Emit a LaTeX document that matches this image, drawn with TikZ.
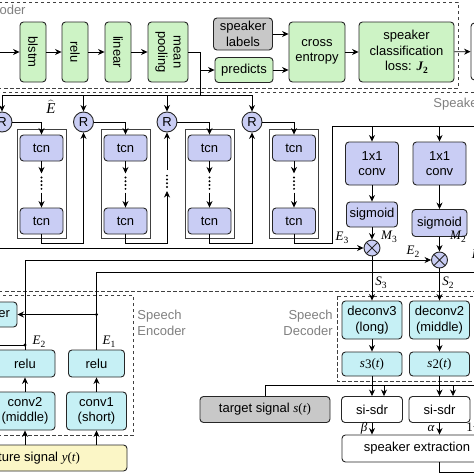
\documentclass[tikz,border=0pt]{standalone}
\usepackage{fontspec}
\setmainfont{Liberation Sans}
\newfontfamily\tms{Liberation Serif}
\usetikzlibrary{positioning,arrows.meta}

\definecolor{boxgreen}{HTML}{CDF3C5}
\definecolor{boxblue}{HTML}{C9CDF4}
\definecolor{boxcyan}{HTML}{C6F0F5}
\definecolor{boxyellow}{HTML}{FBF6C6}
\definecolor{boxgrey}{HTML}{C8C8C8}

\newcommand{\mv}[2]{{\tms\itshape #1}\raisebox{-3pt}{\fontsize{9.5}{9.5}\selectfont\tms #2}}
\newcommand{\jtwo}{{\tms\bfseries\itshape J}\raisebox{-3pt}{\fontsize{9.5}{9.5}\selectfont\tms\bfseries 2}}
\newcommand{\sig}[2]{{\tms\itshape #1}\raisebox{-1.5pt}{\tms #2}{\tms(\textit{t})}}

\tikzset{
  box/.style={draw=black!85, rounded corners=3.5pt, line width=0.9pt, align=center, inner sep=1pt},
  gbox/.style={box, fill=boxgreen},
  vbox/.style={gbox, rotate=-90},
  bbox/.style={box, fill=boxblue},
  cbox/.style={box, fill=boxcyan},
  ybox/.style={box, fill=boxyellow},
  greybox/.style={box, fill=boxgrey},
  wbox/.style={box, fill=white},
  rnode/.style={circle, draw=black!85, line width=0.9pt, fill=boxblue, minimum size=20pt, inner sep=0pt},
  mul/.style={circle, draw=black!85, line width=0.9pt, fill=boxblue, minimum size=16pt, inner sep=0pt,
    path picture={\draw[line width=0.9pt] (path picture bounding box.north west) -- (path picture bounding box.south east)
                  (path picture bounding box.north east) -- (path picture bounding box.south west);}},
  stack/.style={draw=black!75, line width=0.8pt, minimum width=49pt, minimum height=109pt},
  tcn/.style={bbox, minimum width=43pt, minimum height=26pt},
  group/.style={draw=black!75, line width=1pt, dash pattern=on 3.5pt off 2.5pt},
  glabel/.style={text=black!50, align=left, inner sep=1pt},
  mlabel/.style={inner sep=0pt},
  dots/.style={line width=2.2pt, line cap=round, dash pattern=on 0pt off 3.8pt},
}

\begin{document}
\begin{tikzpicture}[x=1pt,y=-1pt,on grid,line width=0.8pt,
    >={Stealth[length=6.5pt,width=6pt]},font=\fontsize{13}{15.5}\selectfont]
  \useasboundingbox (0,0) rectangle (474,474);
  \clip (0,0) rectangle (474,474);
  \fill[white] (0,0) rectangle (474,474);

  % speaker encoder
  \draw[group] (-60,2) rectangle (458,88);
  \node[glabel, anchor=east] (spkenc) at (27,11) {Speaker Encoder};

  \node[vbox, minimum width=60pt, minimum height=26pt] (blstm) at (33,52) {blstm};
  \node[vbox, minimum width=60pt, minimum height=26pt] (relu0) [right=42pt of blstm] {relu};
  \node[vbox, minimum width=60pt, minimum height=26pt] (linear) [right=43pt of relu0] {linear};
  \node[vbox, minimum width=60pt, minimum height=40pt] (pool) [right=50pt of linear] {mean\\pooling};
  \node[greybox, minimum width=59pt, minimum height=32pt] (spklab) at (243,34) {speaker\\labels};
  \node[gbox, minimum width=58pt, minimum height=25pt] (pred) at (244,70) {predicts};
  \node[gbox, minimum width=56pt, minimum height=60pt] (ce) at (317,52) {cross\\entropy};
  \node[gbox, minimum width=95pt, minimum height=60pt] (loss) [right=89.5pt of ce] {speaker\\classification\\loss: \jtwo};
  \node[wbox, minimum width=50pt, minimum height=57pt] (nextbox) at (496,51.5) {};

  \coordinate (spkin) at (-5,52);
  \coordinate (split) at (200,52);
  \coordinate (feed) at (200,95);

  \path[->] (spkin) edge (blstm)
            (blstm) edge (relu0)
            (relu0) edge (linear)
            (linear) edge (pool)
            (ce) edge (loss)
            (loss) edge (nextbox);
  \draw[->] (spklab.east) -- (spklab.east -| ce.west);
  \draw[->] (pred) -- (pred -| ce.west);
  \draw (pool) -- (split) -- (feed);
  \draw[->] (split |- pred) -- (pred);

  % speaker extractor
  \draw[group] (-60,92) rectangle (530,291);
  \node[glabel, anchor=west] (spkext) at (432,104) {Speaker Extractor};

  \node[rnode] (R1) at (2,122) {R};
  \node[rnode] (R2) [right=81.5pt of R1] {R};
  \node[rnode] (R3) [right=83.5pt of R2] {R};
  \node[rnode] (R4) [right=85pt of R3] {R};
  \draw[->] (feed) -| (R1);
  \draw[->] (feed) -| (R4);
  \draw[->] (R2 |- feed) -- (R2);
  \draw[->] (R3 |- feed) -- (R3);

  \node[stack] (blk1) at (41.5,183.5) {};
  \node[stack] (blk2) [right=84pt of blk1] {};
  \node[stack] (blk3) [right=84pt of blk2] {};
  \node[stack] (blk4) [right=84.5pt of blk3] {};
  \node[tcn] (t1a) at (41.5,148) {tcn};
  \node[tcn] (t1b) [below=73pt of t1a] {tcn};
  \node[tcn] (t2a) [right=84pt of t1a] {tcn};
  \node[tcn] (t2b) [below=73pt of t2a] {tcn};
  \node[tcn] (t3a) [right=84pt of t2a] {tcn};
  \node[tcn] (t3b) [below=73pt of t3a] {tcn};
  \node[tcn] (t4a) [right=84.5pt of t3a] {tcn};
  \node[tcn] (t4b) [below=73pt of t4a] {tcn};
  \node[mlabel] (ehat) at (51,107) {\fontsize{15}{15}\selectfont$\widehat{\hbox{\tms\itshape E}}$};

  \draw[->] (t1a.south) -- ++(0,12);
  \draw[dots] (t1a.south) ++(0,16) -- ++(0,15);
  \draw[->] (t1b.north) ++(0,-15) -- (t1b.north);
  \draw[->] (t2a.south) -- ++(0,12);
  \draw[dots] (t2a.south) ++(0,16) -- ++(0,15);
  \draw[->] (t2b.north) ++(0,-15) -- (t2b.north);
  \draw[->] (t3a.south) -- ++(0,12);
  \draw[dots] (t3a.south) ++(0,16) -- ++(0,15);
  \draw[->] (t3b.north) ++(0,-15) -- (t3b.north);
  \draw[->] (t4a.south) -- ++(0,12);
  \draw[dots] (t4a.south) ++(0,16) -- ++(0,15);
  \draw[->] (t4b.north) ++(0,-15) -- (t4b.north);

  \draw[->] (R1) -| (t1a);
  \draw[->] (R2) -| (t2a);
  \draw[->] (R3) -| (t3a);
  \draw[->] (R4) -| (t4a);

  \coordinate (gapb) at (167,191);
  \coordinate (gapt) at (167,170);
  \draw[->] (t1b.south) -- ++(0,9) -| (R2);
  \draw[->] (t2b.south) -- ++(0,9) -| (gapb);
  \draw[dots] (gapb) ++(0,-4) -- ++(0,-15);
  \draw[->] (gapt) -- (R3);
  \draw[->] (t3b.south) -- ++(0,9) -| (R4);

  \coordinate (bus) at (332,126);
  \coordinate (busend) at (480,126);
  \draw (t4b.south) -- ++(0,9) -| (bus) -- (busend);

  \node[bbox, minimum width=53pt, minimum height=43pt] (convA) at (372,163.5) {1x1\\conv};
  \node[bbox, minimum width=53pt, minimum height=43pt] (convB) [right=67.5pt of convA] {1x1\\conv};
  \node[bbox, minimum width=51pt, minimum height=25pt] (sigA) at (372,214.5) {sigmoid};
  \node[bbox, minimum width=55pt, minimum height=27pt] (sigB) at (439.5,223) {sigmoid};
  \node[mul] (mulA) at (372,248) {};
  \node[mul] (mulB) at (439.5,260) {};

  \draw[->] (convA |- bus) -- (convA);
  \draw[->] (convB |- bus) -- (convB);
  \path[->] (convA) edge (sigA)
            (sigA) edge (mulA)
            (convB) edge (sigB)
            (sigB) edge (mulB);

  \node[mlabel] (lM3) at (389,237) {\mv{M}{3}};
  \node[mlabel] (lM2) at (458,237) {\mv{M}{2}};
  \node[mlabel] (lE3) at (342,238) {\mv{E}{3}};
  \node[mlabel] (lE2a) at (413,252) {\mv{E}{2}};
  \node[mlabel, anchor=west] (lE1a) at (471.5,256) {\mv{E}{1}};

  \coordinate (e3start) at (-5,248);
  \coordinate (e1end) at (480,272);
  \draw[->] (e3start) -- (mulA);

  % speech encoder
  \draw[group] (-60,295) rectangle (133,435);
  \node[glabel, anchor=north west] (spenc) at (136,309) {Speech\\Encoder};

  \node[cbox, minimum width=57pt, minimum height=25pt, text width=43pt, align=right] (er) at (-11.5,314.5) {er};
  \node[cbox, minimum width=60pt, minimum height=27pt] (relu2) at (25,363.5) {relu};
  \node[cbox, minimum width=56pt, minimum height=27pt] (relu1) at (96.5,363.5) {relu};
  \node[cbox, minimum width=60pt, minimum height=38pt] (conv2) [below=47.5pt of relu2] {conv2\\(middle)};
  \node[cbox, minimum width=60pt, minimum height=38pt] (conv1) [below=47.5pt of relu1] {conv1\\(short)};
  \node[ybox, minimum width=196pt, minimum height=26pt] (mix) at (29,458) {mixture signal {\tms\itshape y}{\tms(\textit{t})}};

  \draw[->] (mix.north -| conv2) -- (conv2);
  \draw[->] (mix.north -| conv1) -- (conv1);
  \path[->] (conv2) edge (relu2)
            (conv1) edge (relu1);

  \coordinate (e2tap) at (25,345);
  \draw[->] (relu2) |- (mulB);
  \draw (e2tap) -- ++(-40,0);
  \fill (e2tap) circle (1.6pt);
  \draw (relu1) |- (e1end);
  \draw[->] (relu1 |- er) -- (er);
  \fill (relu1 |- er) circle (1.6pt);
  \node[mlabel] (lE2) at (39,342) {\mv{E}{2}};
  \node[mlabel] (lE1) at (109,342) {\mv{E}{1}};

  % speech decoder
  \draw[group] (337,296) rectangle (530,381);
  \node[glabel, anchor=north east, align=right] (spdec) at (334,309) {Speech\\Decoder};

  \node[cbox, minimum width=60pt, minimum height=38pt] (dec3) at (372,320) {deconv3\\(long)};
  \node[cbox, minimum width=60pt, minimum height=38pt] (dec2) [right=67.5pt of dec3] {deconv2\\(middle)};
  \node[cbox, minimum width=60pt, minimum height=24pt] (s3) [below=44pt of dec3] {\sig{s}{3}};
  \node[cbox, minimum width=60pt, minimum height=24pt] (s2) [below=44pt of dec2] {\sig{s}{2}};

  \path[->] (mulA) edge (dec3)
            (mulB) edge (dec2)
            (dec3) edge (s3)
            (dec2) edge (s2);
  \node[mlabel] (lS3) at (381,283) {\mv{S}{3}};
  \node[mlabel] (lS2) at (448,283) {\mv{S}{2}};

  % losses
  \node[wbox, minimum width=61pt, minimum height=26pt] (sdrA) at (372,409.5) {si-sdr};
  \node[wbox, minimum width=61pt, minimum height=26pt] (sdrB) [right=67.5pt of sdrA] {si-sdr};
  \node[greybox, minimum width=130pt, minimum height=26pt] (tgt) at (265,409.5) {target signal \sig{s}{}};
  \node[wbox, minimum width=150pt, minimum height=27pt] (extract) at (417,448.5) {speaker extraction};

  \coordinate (tgtend) at (480,385);
  \coordinate (tA) at (384,385);
  \coordinate (tB) at (453,385);
  \coordinate (outend) at (480,472);
  \draw (tgt) |- (tgtend);
  \draw[->] (tA) -- (tA |- sdrA.north);
  \draw[->] (tB) -- (tB |- sdrB.north);
  \path[->] (s3) edge (sdrA)
            (s2) edge (sdrB);
  \draw[->] (sdrA) -- (sdrA |- extract.north);
  \draw[->] (sdrB) -- (sdrB |- extract.north);
  \draw (extract.south -| mulB) |- (outend);

  \node[mlabel] (lbeta) at (364,428) {{\tms\itshape β}};
  \node[mlabel] (lalpha) at (431,428) {{\tms\itshape α}};
  \node[mlabel, anchor=west] (lrest) at (466,428) {{\tms 1−\textit{α}−\textit{β}}};
\end{tikzpicture}
\end{document}
